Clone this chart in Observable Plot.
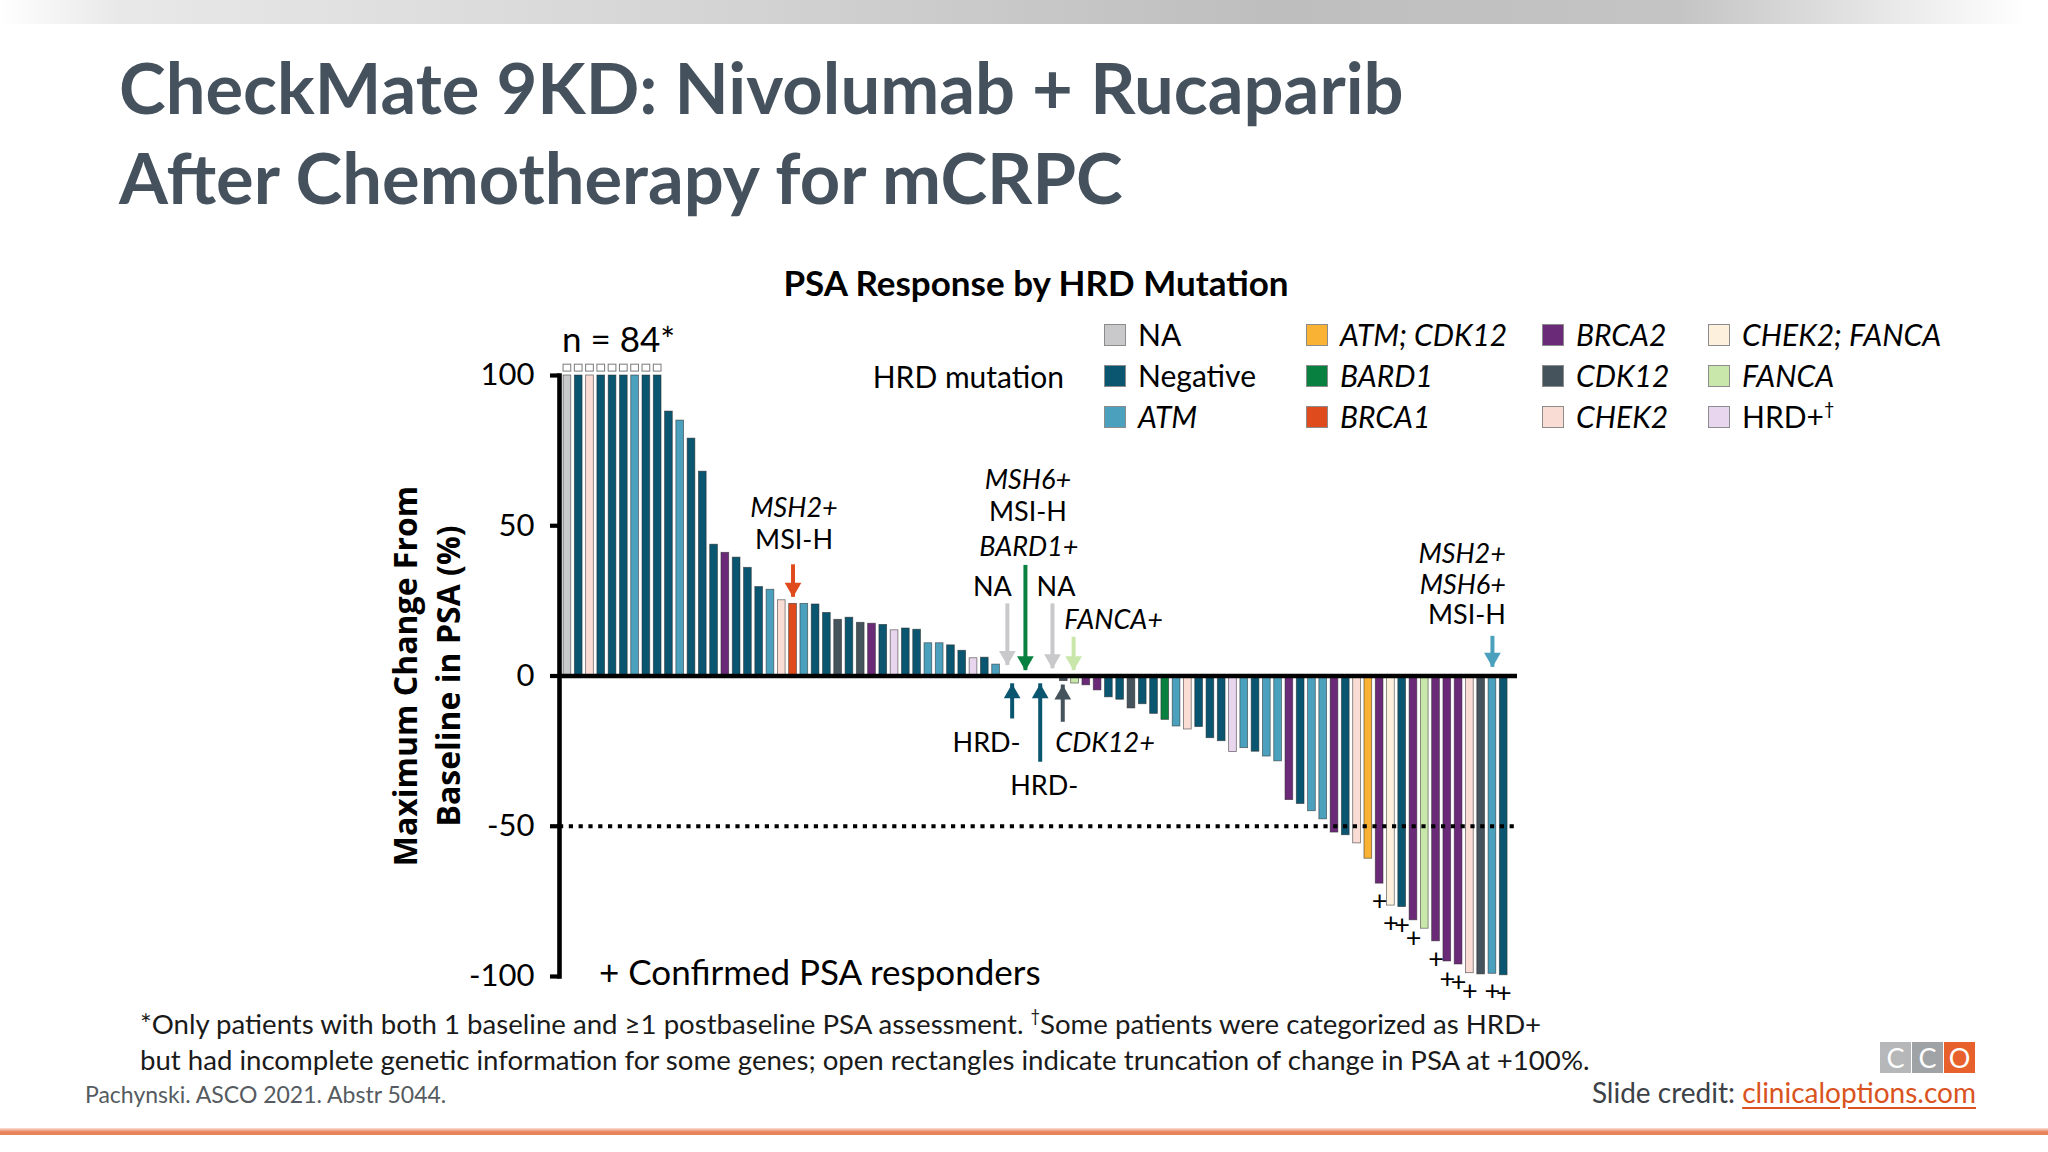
<!DOCTYPE html>
<html><head><meta charset="utf-8">
<script src="https://cdn.jsdelivr.net/npm/d3@7"></script>
<script src="https://cdn.jsdelivr.net/npm/@observablehq/plot@0.6"></script>
<style>
html,body{margin:0;padding:0;background:#fff;}
body{width:2048px;height:1152px;position:relative;overflow:hidden;font-family:Lato,sans-serif;}
.t{position:absolute;white-space:nowrap;}
#chart{position:absolute;left:0;top:0;}
</style></head><body>
<div id="chart"></div>
<script>
// ---------------- DATA ----------------
const categories = ["NA","Negative","ATM","ATM; CDK12","BARD1","BRCA1","BRCA2","CDK12","CHEK2","CHEK2; FANCA","FANCA","HRD+"];
const categoryColors = ["#c9c9cc","#0a5670","#4aa0bd","#f9b234","#08803f","#e04b1d","#6b2a78","#45535d","#f9ddd5","#fdf1de","#c9e7aa","#e8d5ee"];
const categoryItalic = [false,false,true,true,true,true,true,true,true,true,true,false];

const mutation = [
 "NA","Negative","CHEK2","Negative","Negative","Negative","ATM","Negative","Negative","Negative",
 "ATM","Negative","Negative","Negative","BRCA2","Negative","Negative","Negative","ATM","CHEK2",
 "BRCA1","ATM","Negative","Negative","CDK12","Negative","CDK12","BRCA2","Negative","HRD+",
 "Negative","Negative","ATM","ATM","Negative","Negative","HRD+","Negative","ATM","NA",
 "Negative","BARD1","Negative","NA","CDK12","FANCA","BRCA2","BRCA2","Negative","Negative",
 "CDK12","Negative","Negative","BARD1","ATM","CHEK2","Negative","Negative","Negative","HRD+",
 "ATM","Negative","ATM","ATM","BRCA2","Negative","ATM","ATM","BRCA2","Negative",
 "CHEK2","ATM; CDK12","BRCA2","CHEK2; FANCA","Negative","BRCA2","FANCA","BRCA2","BRCA2","BRCA2",
 "CHEK2","CDK12","ATM","Negative"];
const psaChange = [
 100,100,100,100,100,100,100,100,100,88,
 85,79,68,43.7,41,39.4,36,29.6,28.7,25.2,
 24,24,23.8,21,18.7,19.4,17.7,17.4,17,15.2,
 15.8,15.4,10.9,10.9,10.2,8.4,5.9,6.1,3.8,0,
 0,0,0,0,-1.7,-2.5,-3.1,-4.8,-7.1,-7.9,
 -10.8,-9.4,-12.6,-14.6,-16.8,-17.8,-17,-20.7,-21.7,-25.3,
 -24,-25.2,-26.8,-28.4,-41.3,-42.6,-45,-47.7,-52.1,-53,
 -55.7,-60.8,-69.1,-76.4,-76.9,-81.3,-84.1,-88.3,-95,-96,
 -98.9,-99.3,-99.1,-99.6];
const truncatedBars = [1,2,3,4,5,6,7,8,9];
const confirmedBars = [73,74,75,76,78,79,80,81,83,84];
const yTicks = [100,50,0,-50,-100];

// arrows (bar, tail value, tip value, colour category)
const arrowBar   = [21, 40, 42, 44, 46, 41, 43, 45, 83];
const arrowTail  = [37.0, 24.0, 36.8, 24.0, 12.9, -14.3, -28.7, -15.4, 13.2];
const arrowTip   = [26.2, 3.5, 1.8, 2.4, 1.8, -2.6, -2.6, -3.0, 2.9];
const arrowColor = ["BRCA1","NA","BARD1","NA","FANCA","Negative","Negative","CDK12","ATM"];

// annotation labels
const noteText   = ["MSH2+","MSI-H","MSH6+","MSI-H","BARD1+","NA","NA","FANCA+","HRD-","HRD-","CDK12+","MSH2+","MSH6+","MSI-H"];
const noteBar    = [21,21,42,42,42,40,44,46,41,43,45,83,83,83];
const noteValue  = [55.9,45.1,65.1,54.4,42.8,29.5,29.5,18.5,-22.3,-36.8,-22.3,40.4,30.3,20.1];
const noteItalic = [true,false,true,false,true,false,false,true,false,false,true,true,true,false];

// ---------------- BUILD ----------------
const colorOf = Object.fromEntries(categories.map((c,i)=>[c,categoryColors[i]]));
const bars = mutation.map((m,i)=>({id:i+1, mut:m, value:psaChange[i]}));
const ids = bars.map(d=>d.id);

// style-only nudges (pixels) for arrows/labels
const arrowDx = {42:-4.5, 41:-6.5, 43:-1, 45:-1, 46:-1.4};
const noteStyle = [
 {a:"middle",dx:1},{a:"middle",dx:1},
 {a:"middle",dx:-2},{a:"middle",dx:-2},{a:"middle",dx:-1},
 {a:"middle",dx:-15},{a:"middle",dx:3.5},
 {a:"start",dx:-10.7},{a:"end",dx:2},{a:"middle",dx:3},{a:"start",dx:-8.5},
 {a:"end",dx:13.5},{a:"end",dx:13.5},{a:"end",dx:13.5}];

const marks = [
  Plot.barY(bars, {x:"id", y:"value", fill:"mut", stroke:"#2b2b2b", strokeWidth:0.8, strokeOpacity:0.65}),
  Plot.barY(bars.filter(d=>truncatedBars.includes(d.id)), {x:"id", y1:()=>101.3, y2:()=>103.6, fill:"white", stroke:"#7a7a7a", strokeWidth:1}),
  Plot.ruleY([0], {stroke:"#000", strokeWidth:4.6}),
  Plot.ruleY([-50], {stroke:"#000", strokeWidth:4.2, strokeDasharray:"4.2 5.6"}),
  Plot.frame({anchor:"left", stroke:"#000", strokeWidth:4.6}),
  Plot.axisY({ticks:yTicks, tickSize:9, tickPadding:16, strokeWidth:4.2, fontSize:31, tickFormat:d=>String(d), label:null}),
];
arrowBar.forEach((b,i)=>{
  const down = arrowTip[i] > arrowTail[i] ? false : true;
  const c = colorOf[arrowColor[i]];
  const dx = arrowDx[b] || 0;
  const rec = [{bar:b, tail:arrowTail[i], tip:arrowTip[i]}];
  marks.push(Plot.ruleX(rec, {x:"bar", y1:"tail", y2:"tip", stroke:c, strokeWidth:4, dx}));
  marks.push(Plot.dot(rec, {x:"bar", y:"tip", symbol:"triangle", r:6.2, fill:c, stroke:null, rotate: down ? 180 : 0, dx, dy: down ? -9.6 : 9.6}));
});
noteText.forEach((t,i)=>{
  marks.push(Plot.text([{bar:noteBar[i], v:noteValue[i], t}], {x:"bar", y:"v", text:"t", fontSize:27, fontStyle: noteItalic[i] ? "italic" : "normal", textAnchor:noteStyle[i].a, dx:noteStyle[i].dx, fill:"#000"}));
});
marks.push(Plot.text(bars.filter(d=>confirmedBars.includes(d.id)), {x:"id", y:"value", text:()=>"+", fontSize:27, dy:18, fill:"#000"}));
marks.push(Plot.text(["Maximum Change From"], {frameAnchor:"left", textAnchor:"middle", rotate:-90, dx:-153, fontSize:32, fontWeight:"bold", fontFamily:"Open Sans", fill:"#000"}));
marks.push(Plot.text(["Baseline in PSA (%)"], {frameAnchor:"left", textAnchor:"middle", rotate:-90, dx:-110, fontSize:32, fontWeight:"bold", fontFamily:"Open Sans", fill:"#000"}));

const plot = Plot.plot({
  width:2048, height:1152,
  marginTop:375, marginBottom:176, marginLeft:559, marginRight:531,
  style:{fontFamily:"Lato, sans-serif", color:"#000", background:"transparent", overflow:"visible"},
  x:{type:"band", domain:ids, paddingInner:0.316, paddingOuter:0.62, align:0.29, round:false, axis:null},
  y:{domain:[-100,100], axis:null},
  color:{domain:categories, range:categoryColors},
  marks
});
document.getElementById("chart").appendChild(plot);

// ---------------- HTML TEXT ----------------
function put(html, x, base, size, o={}) {
  const d = document.createElement("div");
  d.className = "t";
  d.innerHTML = html;
  const tr = o.anchor==="middle" ? "translateX(-50%)" : o.anchor==="end" ? "translateX(-100%)" : "none";
  d.style.cssText = `left:${x}px;top:${base-0.887*size}px;font-size:${size}px;line-height:${size}px;`+
    `font-weight:${o.weight||400};font-style:${o.style||"normal"};color:${o.color||"#000"};transform:${tr};font-family:${o.family||"Lato"},sans-serif;`;
  document.body.appendChild(d);
  return d;
}
function box(x,y,w,h,css){const d=document.createElement("div");d.style.cssText=`position:absolute;left:${x}px;top:${y}px;width:${w}px;height:${h}px;${css}`;document.body.appendChild(d);return d;}

// top shadow band
box(0,0,2048,24,"background:linear-gradient(to right,#ffffff 0%,#e8e8e8 6%,#d4d4d4 35%,#bebebe 62%,#c4c4c4 82%,#f2f2f2 95%,#ffffff 99%);");
// bottom orange rule
box(0,1128,2048,7,"background:linear-gradient(to bottom,rgba(240,170,140,0.35) 0%,#e8835b 55%,#e8835b 100%);");

put("CheckMate 9KD: Nivolumab + Rucaparib",119,115,70.5,{weight:700,color:"#45525e"});
put("After Chemotherapy for mCRPC",119,205,70.5,{weight:700,color:"#45525e"});
put("PSA Response by HRD Mutation",1036,296,35,{weight:700,anchor:"middle"});
put("n = 84*",562,352,35);
put("+ Confirmed PSA responders",599,985,35);

// legend
put("HRD mutation",1064,388,30,{anchor:"end"});
const colX = [1104,1306,1542,1708];
const rowBase = [346,387,428];
categories.forEach((c,i)=>{
  const col = Math.floor(i/3), row = i%3;
  const x = colX[col], b = rowBase[row];
  box(x,b-22,22,22,`background:${categoryColors[i]};border:1px solid #8c8c8c;box-sizing:border-box;`);
  const label = c==="HRD+" ? 'HRD+<span style="font-size:0.6em;position:relative;top:-0.75em;">†</span>' : c;
  put(label,x+34,b,30,{style:categoryItalic[i]?"italic":"normal"});
});

// footnotes
put('*Only patients with both 1 baseline and ≥1 postbaseline PSA assessment. <span style="font-size:0.6em;position:relative;top:-0.7em;">†</span>Some patients were categorized as HRD+',140,1034,27.6,{color:"#1a1a1a"});
put("but had incomplete genetic information for some genes; open rectangles indicate truncation of change in PSA at +100%.",140,1070,27.6,{color:"#1a1a1a"});
put("Pachynski. ASCO 2021. Abstr 5044.",85,1103,23,{color:"#555b60"});
put('Slide credit: <span style="color:#d9541e;text-decoration:underline;text-underline-offset:4px;">clinicaloptions.com</span>',1976,1103,28,{anchor:"end",color:"#3c4248"});

// CCO logo
const logo = [["C","#b5b7b9",1880],["C","#a0a3a6",1912],["O","#e8602b",1944]];
logo.forEach(([ch,bg,x])=>{
  const d = box(x,1042,31,31,`background:${bg};color:#fff;font-family:Lato,sans-serif;font-size:27px;line-height:31px;text-align:center;`);
  d.textContent = ch;
});
</script></body></html>
